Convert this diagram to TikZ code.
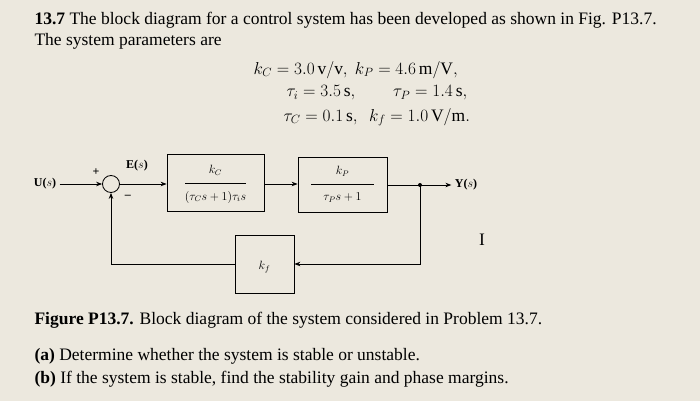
\documentclass[tikz,border=0pt]{standalone}
\usepackage{fontspec}
\setmainfont{Liberation Serif}
\usetikzlibrary{arrows.meta}
\begin{document}
\begin{tikzpicture}[x=1pt,y=-1pt,
  ln/.style={thick},
  arr/.style={thick,-{Stealth[length=6pt]}},
  txt/.style={font=\fontsize{17.5}{20}\selectfont},
  sm/.style={font=\fontsize{12}{14}\selectfont}]
\fill[fill={rgb,255:red,236;green,232;blue,222}] (0,0) rectangle (700,401);
\useasboundingbox (0,0) rectangle (700,401);
\node[txt,anchor=west] (t1) at (31,20) {\textbf{13.7} The block diagram for a control system has been developed as shown in Fig. P13.7.};
\node[txt,anchor=west] (t2) at (31,41) {The system parameters are};
\node[txt,anchor=west] (p1) at (250,70) {$k_C=3.0\,\mathrm{v/v},\ k_P=4.6\,\mathrm{m/V},$};
\node[txt,anchor=west] (p2) at (283,93) {$\tau_i=3.5\,\mathrm{s},\qquad \tau_P=1.4\,\mathrm{s},$};
\node[txt,anchor=west] (p3) at (280,117) {$\tau_C=0.1\,\mathrm{s},\ \ k_f=1.0\,\mathrm{V/m}.$};
% diagram
\node[sm] (U) at (45,184) {\textbf{U(}$s$\textbf{)}};
\node[draw,thick,circle,minimum size=17pt,inner sep=0] (S) at (111,184) {};
\node[draw,thick,minimum width=97pt,minimum height=57pt] (B1) at (215.5,182.5) {};
\node[sm] at (215.5,170) {$k_C$};
\draw[thin] (185,183) -- (246,183);
\node[sm] at (215.5,197) {$(\tau_C s+1)\tau_i s$};
\node[draw,thick,minimum width=89pt,minimum height=55pt] (B2) at (342.5,184.5) {};
\node[sm] at (342.5,171) {$k_P$};
\draw[thin] (311,184) -- (374,184);
\node[sm] at (342.5,198) {$\tau_P s+1$};
\node[draw,thick,minimum width=59pt,minimum height=58pt] (F) at (264.5,264) {};
\node[sm] at (264.5,267) {$k_f$};
\coordinate (J) at (420,185);
\node[sm] (Y) at (466,185) {\textbf{Y(}$s$\textbf{)}};
\node[sm] at (96,172) {\textbf{+}};
\node[sm] at (128,197) {\textbf{--}};
\node[sm] at (137,166) {\textbf{E(}$s$\textbf{)}};
\draw[arr] (U) -- (S);
\draw[arr] (S) -- (B1.west|-S);
\draw[arr] (B1.east|-S) -- (B2.west|-S);
\draw[ln] (B2.east|-J) -- (J);
\fill (J) circle (2pt);
\draw[arr] (J) -- (Y);
\draw[arr] (J) |- (F.east);
\draw[arr] (F.west) -| (S.south);
\node[txt] at (482,240) {I};
\node[txt,anchor=west] (cap) at (31,320) {\textbf{Figure P13.7.} Block diagram of the system considered in Problem 13.7.};
\node[txt,anchor=west] (qa) at (31,356) {\textbf{(a)} Determine whether the system is stable or unstable.};
\node[txt,anchor=west] (qb) at (31,379) {\textbf{(b)} If the system is stable, find the stability gain and phase margins.};
\end{tikzpicture}
\end{document}
